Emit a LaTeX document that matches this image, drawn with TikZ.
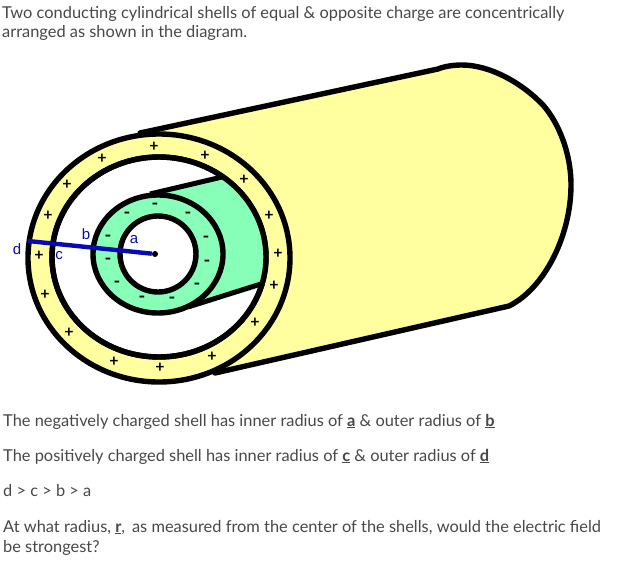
\documentclass[tikz,border=0pt]{standalone}
\usepackage{fontspec}
\setmainfont{Lato}
\newfontfamily\labelfont{Liberation Sans}
\definecolor{shellY}{HTML}{FFFFA0}
\definecolor{shellG}{HTML}{88FFB8}
\definecolor{txt}{HTML}{484848}
\definecolor{rad}{HTML}{0A0AB4}
\tikzset{
 para/.style={anchor=base west,inner sep=0,text=txt,font=\fontsize{16.4}{19}\selectfont},
 lab/.style={text=rad,inner sep=0,font=\labelfont\fontsize{15}{15}\selectfont},
 plussign/.style={inner sep=0,font=\bfseries\fontsize{16}{16}\selectfont},
 minussign/.style={inner sep=0,font=\bfseries\fontsize{18}{18}\selectfont},
 ring/.style={draw=black,line width=5.4pt},
}
\begin{document}
\begin{tikzpicture}[x=1pt,y=-1pt]
\useasboundingbox (0,0) rectangle (624,563);
% text
\node[para] (t1) at (2,18) {Two conducting cylindrical shells of equal \& opposite charge are concentrically};
\node[para] (t2) at (2,37) {arranged as shown in the diagram.};
\node[para] (t3) at (3,426) {The negatively charged shell has inner radius of \underline{\textbf{a}} \& outer radius of \underline{\textbf{b}}};
\node[para] (t4) at (3,461) {The positively charged shell has inner radius of \underline{\textbf{c}} \& outer radius of \underline{\textbf{d}}};
\node[para] (t5) at (3,496) {d > c > b > a};
\node[para] (t6) at (3,532) {At what radius, \underline{\textbf{r}},\, as measured from the center of the shells, would the electric field};
\node[para] (t7) at (3,552) {be strongest?};
% outer cylinder
\draw[ring,fill=shellY,line join=round] (140,133) -- (438,69)
  .. controls (445,66) and (455,65) .. (462,65)
  .. controls (490,65) and (522,83) .. (543,105)
  .. controls (558,122) and (571,152) .. (571,185)
  .. controls (571,235) and (545,288) .. (509,306)
  -- (215,373) -- cycle;
% outer shell face
\draw[ring,fill=shellY] (159,258) ellipse [x radius=131,y radius=124];
\draw[ring,fill=white] (159,257) ellipse [x radius=107,y radius=100];
% inner cylinder
\begin{scope}
\clip (159,257) ellipse [x radius=107,y radius=100];
\fill[shellG] (150,194) -- (222,177) -- (275,177) -- (275,283) -- (188,309) -- cycle;
\end{scope}
\draw[line width=5pt] (150,194) -- (222,177);
\draw[line width=5pt] (188,307) -- (264,283);
\draw[ring] (159,257) ellipse [x radius=107,y radius=100];
\draw[ring,fill=shellG] (158,254) ellipse [x radius=65,y radius=59];
\draw[ring,fill=white] (158,254) ellipse [x radius=38,y radius=38];
% plus signs
\foreach \x/\y in {154/147,205/156,244/180,269/216,278/254,274/286,255/323,212/357,160/368,114/362,69/333,45/295,39/256,48/216,67/185,102/159}
  \node[plussign] at (\x,\y) {+};
% minus signs
\foreach \x/\y in {155/206,188/215,206/239,207/263,197/286,172/300,142/299,117/284,108/261,108/238,127/215}
  \node[minussign] at (\x,\y) {-};
% radius line
\coordinate (rimD) at (28,241);
\node[fill=black,circle,inner sep=0,minimum size=6pt] (ctr) at (155,254) {};
\draw[rad,line width=4.4pt] (rimD) -- (ctr);
\node[fill=black,circle,inner sep=0,minimum size=4pt] (ctrdot) at (155,254) {};
% labels
\node[lab] (ld) at (17,249) {d};
\node[lab] (lc) at (59,256) {c};
\node[lab] (lb) at (86,234) {b};
\node[lab] (la) at (134,240) {a};
\end{tikzpicture}
\end{document}
